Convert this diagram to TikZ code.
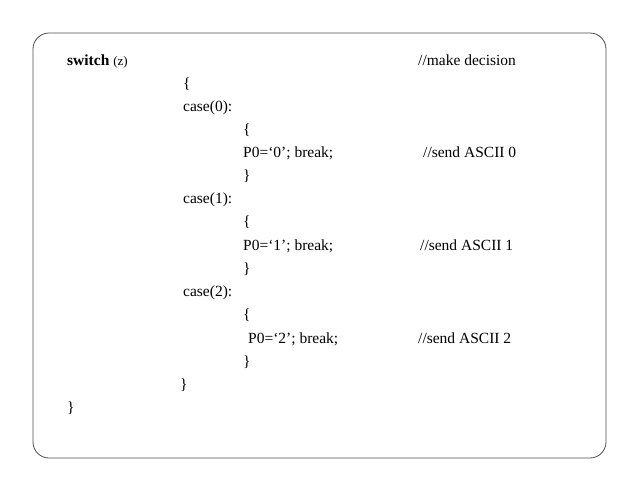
\documentclass[tikz,border=0pt]{standalone}
\usepackage{fontspec}
\setmainfont{Liberation Serif}
\begin{document}
\begin{tikzpicture}[x=1pt,y=-1pt,t/.style={anchor=base west,inner sep=0pt,font=\fontsize{15.5}{17}\selectfont}]
\useasboundingbox (0,0) rectangle (638,493);
\draw[rounded corners=16pt,line width=0.8pt,draw=black!70] (33,33) rectangle (606,458);
\node[t] (l1) at (67,65) {\textbf{switch} {\fontsize{13}{15}\selectfont(z)}};
\node[t] (c1) at (418,65) {//make decision};
\node[t] (l2) at (183,88) {\{};
\node[t] (l3) at (183,111) {case(0):};
\node[t] (l4) at (243,134) {\{};
\node[t] (l5) at (243,157) {P0=‘0’; break;};
\node[t] (c5) at (423,157) {//send ASCII 0};
\node[t] (l6) at (243,180) {\}};
\node[t] (l7) at (183,203) {case(1):};
\node[t] (l8) at (243,226) {\{};
\node[t] (l9) at (243,250) {P0=‘1’; break;};
\node[t] (c9) at (420,250) {//send ASCII 1};
\node[t] (l10) at (243,273) {\}};
\node[t] (l11) at (183,296) {case(2):};
\node[t] (l12) at (243,319) {\{};
\node[t] (l13) at (248,343) {P0=‘2’; break;};
\node[t] (c13) at (418,343) {//send ASCII 2};
\node[t] (l14) at (243,366) {\}};
\node[t] (l15) at (180,389) {\}};
\node[t] (l16) at (67,412) {\}};
\end{tikzpicture}
\end{document}
